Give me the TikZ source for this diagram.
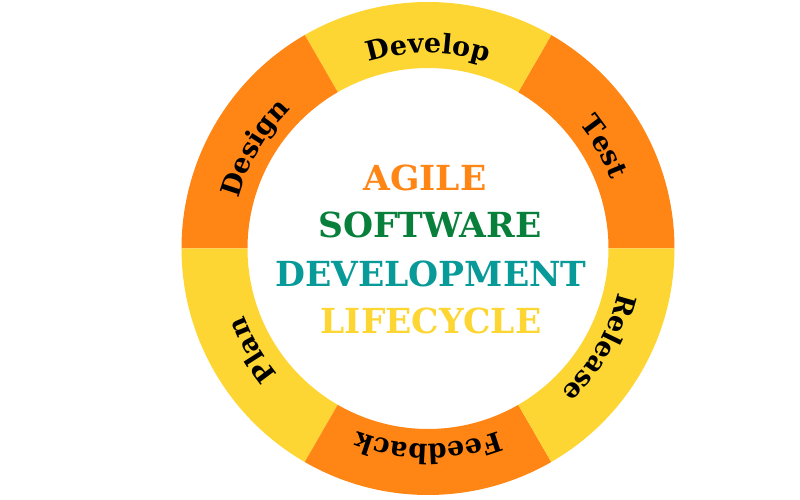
\documentclass[tikz,border=0pt]{standalone}
\usepackage{fontspec}
\setmainfont{DejaVu Serif}
\usetikzlibrary{decorations.text}

\definecolor{ringorange}{RGB}{255,133,20}
\definecolor{ringyellow}{RGB}{253,214,51}
\definecolor{agilegreen}{RGB}{8,128,60}
\definecolor{agileteal}{RGB}{8,153,153}

\newcommand{\ringfont}{\fontsize{27}{27}\selectfont\bfseries}
\newcommand{\hubfont}{\fontsize{34.5}{34.5}\selectfont\bfseries}

\tikzset{
  hubline/.style={inner sep=0pt, font=\hubfont},
  ringlabel/.style={decorate, decoration={text along path, text align=center,
      text={|\ringfont|#1}}}
}

\begin{document}
\begin{tikzpicture}[x=1pt,y=1pt]
\useasboundingbox (-428,-251.5) rectangle (372,248.5);
% ring segments, start angle / name / colour
\foreach \a/\name/\col in {0/Test/ringorange, 60/Develop/ringyellow,
    120/Design/ringorange, 180/Plan/ringyellow,
    240/Feedback/ringorange, 300/Release/ringyellow}
{
  \fill[\col] (\a:246.5) arc[start angle=\a, delta angle=60, radius=246.5pt]
    -- ({\a+60}:180.5) arc[start angle={\a+60}, delta angle=-60, radius=180.5pt] -- cycle;
  \path[ringlabel=\name] ({\a+60}:195.5) arc[start angle={\a+60}, delta angle=-60, radius=195.5pt];
}
% centre title
\node[hubline, text=ringorange] (agile) at (-3,71) {AGILE};
\node[hubline, text=agilegreen] (software) at (2,23.5) {SOFTWARE};
\node[hubline, text=agileteal] (development) at (3,-25.5) {DEVELOPMENT};
\node[hubline, text=ringyellow] (lifecycle) at (3,-72.5) {LIFECYCLE};
\end{tikzpicture}
\end{document}
